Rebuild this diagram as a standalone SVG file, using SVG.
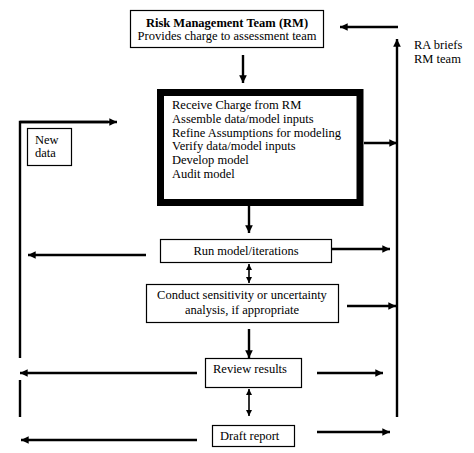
<svg xmlns="http://www.w3.org/2000/svg" width="474" height="453" viewBox="0 0 474 453">
<style>
text{font-family:"Liberation Serif","Times New Roman",serif;font-size:12.5px;fill:#000}
.b{font-weight:bold}
.box{fill:#fff;stroke:#000;stroke-width:1.2}
.ln{fill:none;stroke:#000;stroke-width:2.4}
.arr{fill:none;stroke:#000;stroke-width:2.4;marker-end:url(#ah)}
.dbl{fill:none;stroke:#000;stroke-width:1.6;marker-end:url(#ahs);marker-start:url(#ahs)}
</style>
<defs>
<marker id="ah" viewBox="0 0 10 10" refX="10" refY="5" markerWidth="3.6" markerHeight="3.2" orient="auto" markerUnits="strokeWidth"><path d="M0,0 L10,5 L0,10 z" fill="#000"/></marker>
<marker id="ahs" viewBox="0 0 10 10" refX="10" refY="5" markerWidth="4" markerHeight="3.8" orient="auto-start-reverse" markerUnits="strokeWidth"><path d="M0,0 L10,5 L0,10 z" fill="#000"/></marker>
</defs>
<rect width="474" height="453" fill="#fff"/>
<g id="connectors">
<path class="arr" d="M398,27 H340"/>
<path class="arr" d="M397,417 V39"/>
<path class="arr" d="M243,55 V83"/>
<path class="arr" d="M364,143 H397"/>
<path class="ln" d="M20,358 V122 H108"/>
<path class="arr" d="M20,122 H117"/>
<path class="arr" d="M249,206 V233"/>
<path class="arr" d="M146,255 H28"/>
<path class="arr" d="M331,249 H390"/>
<path class="dbl" d="M249,264 V283"/>
<path class="arr" d="M347,306 H396"/>
<path class="arr" d="M249,329 V358"/>
<path class="arr" d="M197,373 H20"/>
<path class="arr" d="M317,373 H383"/>
<path class="ln" d="M20,380 V417"/>
<path class="dbl" d="M249,389 V416"/>
<path class="arr" d="M197,440 H21"/>
<path class="arr" d="M317,432 H390"/>
</g>
<g id="rm">
<rect class="box" x="130.5" y="10.5" width="193" height="37"/>
<text class="b" x="227" y="27" text-anchor="middle">Risk Management Team (RM)</text>
<text x="227" y="40" text-anchor="middle">Provides charge to assessment team</text>
</g>
<g id="ra-label">
<text x="414" y="49">RA briefs</text>
<text x="414" y="63">RM team</text>
</g>
<g id="main">
<rect x="160.5" y="92.5" width="199.5" height="110" fill="#fff" stroke="#000" stroke-width="7"/>
<text x="172" y="109">Receive Charge from RM</text>
<text x="172" y="122.5">Assemble data/model inputs</text>
<text x="172" y="136.5">Refine Assumptions for modeling</text>
<text x="172" y="150">Verify data/model inputs</text>
<text x="172" y="164">Develop model</text>
<text x="172" y="178">Audit model</text>
</g>
<g id="newdata">
<rect class="box" x="27.5" y="128.5" width="44" height="37"/>
<text x="35" y="144">New</text>
<text x="35" y="157">data</text>
</g>
<g id="run">
<rect class="box" x="160.5" y="239.5" width="171" height="23"/>
<text x="246" y="255" text-anchor="middle">Run model/iterations</text>
</g>
<g id="conduct">
<rect class="box" x="146.5" y="284.5" width="192" height="38"/>
<text x="242" y="299" text-anchor="middle">Conduct sensitivity or uncertainty</text>
<text x="242" y="314" text-anchor="middle">analysis, if appropriate</text>
</g>
<g id="review">
<rect class="box" x="205.5" y="358.5" width="96" height="29"/>
<text x="213" y="373">Review results</text>
</g>
<g id="draft">
<rect class="box" x="212.5" y="425.5" width="82" height="21"/>
<text x="220" y="440">Draft report</text>
</g>
</svg>
